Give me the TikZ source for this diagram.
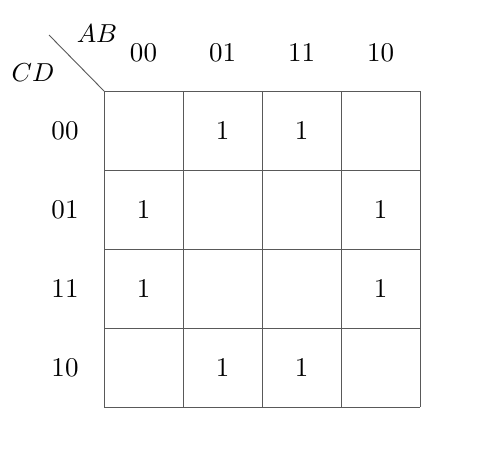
\documentclass[tikz,border=0pt]{standalone}
\begin{document}
\begin{tikzpicture}[x=0.385pt,y=-0.385pt,
  gridline/.style={draw=black!65,line width=0.35pt},
  lbl/.style={inner sep=0pt,anchor=center,font=\fontsize{10.4}{12}\selectfont}]
\useasboundingbox (0,0) rectangle (493,475);
% grid
\foreach \i in {0,...,4}{
  \draw[gridline] (104+79*\i,91) -- (104+79*\i,407);
  \draw[gridline] (104,91+79*\i) -- (420,91+79*\i);
}
\coordinate (corner) at (104,91);
\coordinate (diagend) at (49,35);
\draw[gridline] (corner) -- (diagend);
\node[lbl] (ab) at (97,34) {$AB$};
\node[lbl] (cd) at (33,73) {$CD$};
% headers
\foreach \t [count=\k from 0] in {00,01,11,10}{
  \node[lbl] (col\k) at (143.5+79*\k,52.5) {\t};
  \node[lbl] (row\k) at (65,130.5+79*\k) {\t};
}
% entries
\node[lbl] (c01) at (222.5,130.5) {1};
\node[lbl] (c02) at (301.5,130.5) {1};
\node[lbl] (c10) at (143.5,209.5) {1};
\node[lbl] (c13) at (380.5,209.5) {1};
\node[lbl] (c20) at (143.5,288.5) {1};
\node[lbl] (c23) at (380.5,288.5) {1};
\node[lbl] (c31) at (222.5,367.5) {1};
\node[lbl] (c32) at (301.5,367.5) {1};
\end{tikzpicture}
\end{document}
